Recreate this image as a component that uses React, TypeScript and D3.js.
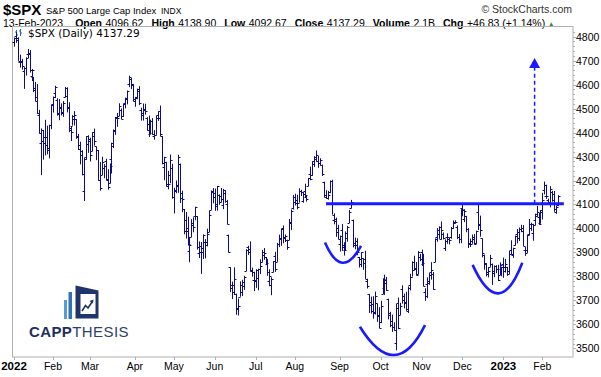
import React from "react";
import * as d3 from "d3";

// ---- Data: S&P 500 daily OHLC, Jan 3 2022 -> Feb 13 2023 ----
const months = ["2022-01","2022-02","2022-03","2022-04","2022-05","2022-06","2022-07","2022-08","2022-09","2022-10","2022-11","2022-12","2023-01","2023-02"];
const monthLabels = ["2022","Feb","Mar","Apr","May","Jun","Jul","Aug","Sep","Oct","Nov","Dec","2023","Feb"];
const monthBold = [true,false,false,false,false,false,false,false,false,false,false,false,true,false];
const tradingDays = [
  [3,4,5,6,7,10,11,12,13,14,18,19,20,21,24,25,26,27,28,31],
  [1,2,3,4,7,8,9,10,11,14,15,16,17,18,22,23,24,25,28],
  [1,2,3,4,7,8,9,10,11,14,15,16,17,18,21,22,23,24,25,28,29,30,31],
  [1,4,5,6,7,8,11,12,13,14,18,19,20,21,22,25,26,27,28,29],
  [2,3,4,5,6,9,10,11,12,13,16,17,18,19,20,23,24,25,26,27,31],
  [1,2,3,6,7,8,9,10,13,14,15,16,17,21,22,23,24,27,28,29,30],
  [1,5,6,7,8,11,12,13,14,15,18,19,20,21,22,25,26,27,28,29],
  [1,2,3,4,5,8,9,10,11,12,15,16,17,18,19,22,23,24,25,26,29,30,31],
  [1,2,6,7,8,9,12,13,14,15,16,19,20,21,22,23,26,27,28,29,30],
  [3,4,5,6,7,10,11,12,13,14,17,18,19,20,21,24,25,26,27,28,31],
  [1,2,3,4,7,8,9,10,11,14,15,16,17,18,21,22,23,25,28,29,30],
  [1,2,5,6,7,8,9,12,13,14,15,16,19,20,21,22,23,27,28,29,30],
  [3,4,5,6,9,10,11,12,13,17,18,19,20,23,24,25,26,27,30,31],
  [1,2,3,6,7,8,9,10,13],
];

const opens = [
  4778.14,4804.51,4787.99,4693.39,4697.66,4655.34,4669.14,4728.59,4733.56,4637.99,4632.24,4588.03,4547.35,4471.38,4356.32,4366.64,4380.58,4380.58,4336.19,4431.79,
  4519.57,4566.39,4535.41,4482.79,4505.75,4480.02,4547.00,4553.24,4506.27,4412.61,4429.28,4455.75,4456.06,4384.57,4332.74,4324.01,4155.77,4298.38,4354.17,
  4363.14,4322.56,4401.31,4342.12,4327.01,4202.66,4223.10,4252.55,4279.50,4202.75,4188.82,4288.14,4345.11,4407.34,4462.40,4469.10,4493.10,4469.98,4522.66,4541.09,4602.86,4624.20,4599.02,
  4540.32,4547.97,4572.45,4494.17,4474.65,4494.15,4462.64,4437.59,4394.30,4449.12,4385.63,4390.63,4472.26,4489.17,4385.83,4255.34,4278.14,4186.52,4222.58,4253.75,
  4130.61,4159.78,4181.18,4270.43,4128.17,4081.27,4035.18,3990.08,3903.95,3963.90,4013.02,4052.00,4051.98,3899.00,3927.76,3919.42,3942.94,3929.59,3984.60,4077.43,4151.09,
  4149.78,4095.41,4137.57,4134.72,4096.47,4147.12,4101.65,3974.39,3838.15,3763.52,3764.05,3728.18,3665.90,3715.31,3733.89,3774.71,3821.75,3920.76,3913.00,3825.09,3785.99,
  3781.00,3792.61,3831.98,3858.85,3888.26,3880.94,3851.95,3779.67,3763.99,3818.00,3883.79,3860.73,3935.32,3955.47,4000.76,3965.72,3953.22,3951.43,4026.13,4087.33,
  4112.38,4104.21,4107.96,4154.85,4115.87,4155.93,4133.11,4176.41,4227.40,4225.02,4269.37,4290.46,4280.40,4273.13,4266.31,4195.08,4133.09,4126.55,4153.26,4198.74,4034.58,4041.25,4000.67,
  3936.73,3994.66,3930.89,3909.43,3959.94,4022.94,4083.67,4037.12,3940.73,3932.41,3880.95,3849.91,3875.23,3871.40,3782.36,3727.14,3682.72,3686.44,3651.94,3687.01,3633.48,
  3609.78,3726.46,3753.25,3771.97,3706.74,3647.51,3595.86,3590.83,3520.37,3690.41,3638.65,3746.26,3703.11,3689.05,3657.10,3762.01,3799.44,3825.97,3834.69,3808.26,3881.85,
  3901.79,3852.90,3733.25,3766.98,3780.71,3817.02,3810.94,3859.89,3963.72,3977.97,4006.41,3976.82,3919.26,3966.39,3956.23,3965.51,4000.30,4023.34,4005.36,3964.19,3957.18,
  4087.14,4040.17,4052.02,3996.63,3933.28,3947.79,3954.17,3939.29,4069.38,4015.54,3958.37,3890.91,3853.79,3810.47,3839.49,3853.26,3815.11,3843.34,3829.56,3805.45,3829.06,
  3853.29,3840.36,3839.74,3823.37,3910.82,3888.57,3932.35,3977.57,3960.60,3999.28,4002.25,3911.84,3909.04,3978.14,4001.74,3982.71,4036.08,4053.72,4049.27,4020.85,
  4070.07,4158.68,4136.69,4119.57,4105.35,4153.10,4144.25,4068.92,4096.62,
];
const highs = [
  4796.64,4818.62,4797.70,4725.01,4707.95,4673.02,4714.13,4748.83,4744.13,4665.13,4632.24,4611.55,4602.11,4494.52,4417.35,4411.01,4453.23,4428.74,4432.72,4516.89,
  4550.49,4595.31,4542.88,4539.66,4521.86,4531.32,4590.03,4588.92,4526.33,4426.22,4472.77,4489.55,4456.06,4394.60,4362.12,4326.51,4294.73,4385.34,4388.84,
  4378.45,4401.48,4416.78,4342.12,4327.01,4276.94,4299.40,4268.28,4291.01,4247.57,4271.05,4357.86,4412.67,4465.40,4481.75,4522.00,4501.07,4520.58,4546.03,4575.65,4637.30,4627.77,4603.07,
  4548.70,4583.50,4593.45,4503.94,4521.16,4520.41,4464.35,4471.00,4453.92,4460.46,4410.31,4471.03,4488.29,4512.94,4385.83,4299.02,4278.14,4240.71,4308.45,4269.68,
  4169.81,4200.10,4307.66,4270.43,4157.69,4081.27,4068.82,4049.09,3964.80,4038.88,4046.46,4090.72,4051.98,3945.96,3943.42,3975.30,3955.68,3999.33,4075.14,4158.49,4168.34,
  4166.54,4177.51,4142.67,4168.78,4164.86,4160.14,4119.10,3974.39,3838.15,3778.18,3837.56,3728.18,3707.71,3779.65,3785.99,3802.58,3913.65,3927.72,3945.86,3836.50,3818.99,
  3829.82,3832.19,3870.91,3910.63,3918.50,3880.94,3873.41,3829.44,3796.41,3863.62,3902.44,3939.81,3974.13,3999.29,4012.44,3975.30,3953.22,4039.56,4078.95,4140.15,
  4144.95,4140.47,4167.66,4161.29,4151.58,4186.62,4137.30,4211.03,4257.91,4280.47,4301.79,4325.28,4302.18,4292.53,4266.31,4195.08,4159.77,4156.56,4200.54,4203.04,4062.99,4044.98,4015.37,
  3970.23,4018.43,3942.55,3987.89,4010.50,4076.81,4119.28,4037.12,3961.94,3959.14,3880.95,3900.45,3876.01,3907.07,3790.34,3727.14,3715.67,3717.53,3736.74,3687.01,3671.44,
  3698.35,3791.92,3806.91,3797.93,3706.74,3652.17,3640.66,3608.34,3685.41,3712.00,3689.73,3762.79,3728.58,3736.00,3757.89,3810.74,3862.85,3886.15,3859.95,3905.42,3893.73,
  3911.79,3894.44,3750.59,3796.34,3813.95,3859.40,3818.20,3958.33,4001.48,4008.97,4028.84,3983.09,3954.33,3979.89,3962.00,4005.88,4033.78,4034.02,4012.27,3976.77,4080.11,
  4100.51,4080.48,4052.45,4001.51,3957.57,3974.19,3977.02,3990.71,4100.96,4053.76,3958.37,3890.91,3854.86,3838.24,3889.82,3853.26,3845.80,3846.65,3848.32,3858.19,3839.85,
  3878.46,3873.16,3839.74,3906.19,3950.57,3919.83,3970.07,3997.76,4003.95,4015.39,4014.16,3922.94,3972.96,4039.31,4023.92,4019.55,4061.57,4094.21,4063.85,4077.16,
  4148.95,4195.44,4182.36,4124.63,4176.54,4156.85,4156.23,4094.36,4138.90,
];
const lows = [
  4758.17,4774.27,4699.44,4671.26,4662.74,4582.24,4638.27,4710.20,4650.29,4614.75,4568.70,4530.20,4477.95,4395.34,4222.62,4287.11,4304.80,4309.50,4292.46,4414.02,
  4483.53,4544.32,4470.39,4451.50,4471.47,4465.40,4547.00,4484.31,4401.41,4364.84,4429.28,4429.68,4373.81,4327.22,4267.11,4221.51,4114.65,4286.83,4315.12,
  4279.54,4322.56,4345.56,4284.98,4199.85,4157.87,4223.10,4209.80,4200.49,4161.72,4187.90,4229.34,4335.65,4390.57,4424.30,4469.10,4455.81,4465.17,4501.07,4517.69,4589.66,4581.32,4530.41,
  4507.57,4539.21,4514.17,4450.04,4450.30,4474.60,4408.38,4381.34,4392.70,4390.77,4370.30,4390.63,4448.76,4384.47,4267.62,4200.82,4175.04,4162.90,4188.63,4124.28,
  4062.51,4147.08,4148.91,4106.01,4067.91,3975.48,3958.17,3928.82,3858.87,3963.90,3983.99,4033.93,3911.91,3876.58,3810.32,3872.27,3875.13,3925.03,3984.60,4077.43,4104.88,
  4073.85,4074.37,4098.67,4109.18,4080.19,4107.20,4017.17,3900.16,3734.30,3705.68,3722.30,3639.77,3636.87,3715.31,3717.69,3743.52,3821.75,3889.66,3820.14,3799.02,3738.67,
  3752.10,3742.06,3809.37,3858.85,3869.34,3847.22,3802.36,3759.07,3721.56,3817.18,3818.63,3860.73,3922.03,3927.64,3938.24,3943.46,3910.74,3951.43,3992.97,4079.22,
  4096.02,4079.81,4107.96,4135.42,4107.31,4128.97,4112.09,4176.41,4201.41,4219.78,4256.90,4277.77,4253.08,4261.98,4218.70,4129.86,4124.03,4119.97,4147.59,4057.66,4017.42,3965.21,3954.53,
  3903.65,3906.21,3886.75,3906.03,3944.81,4022.94,4083.67,3921.07,3912.90,3888.28,3837.08,3838.50,3827.54,3789.49,3749.45,3647.47,3644.76,3623.29,3640.61,3610.40,3584.13,
  3604.93,3726.46,3722.66,3739.22,3620.73,3588.10,3568.45,3573.86,3491.58,3579.68,3638.65,3686.53,3666.51,3656.44,3647.42,3741.65,3799.44,3824.07,3803.79,3808.26,3863.18,
  3843.80,3758.68,3698.15,3708.84,3764.70,3786.28,3744.22,3859.89,3944.82,3956.40,3953.17,3954.34,3906.54,3935.98,3933.34,3956.88,3998.66,4020.76,3955.77,3937.65,3938.58,
  4050.87,4026.63,3984.49,3918.39,3922.68,3935.83,3933.04,3935.30,3993.03,3965.65,3879.45,3827.91,3800.04,3795.62,3839.49,3764.49,3797.01,3813.22,3780.78,3805.45,3800.34,
  3794.33,3815.77,3802.42,3809.56,3890.42,3877.29,3928.54,3937.56,3947.67,3984.57,3926.59,3885.54,3897.86,3971.64,3989.79,3949.06,4013.29,4048.70,4015.55,4020.44,
  4037.20,4141.88,4123.36,4103.98,4088.39,4111.67,4069.67,4060.79,4092.67,
];
const closes = [
  4796.56,4793.54,4700.58,4696.05,4677.03,4670.29,4713.07,4726.35,4659.03,4662.85,4577.11,4532.76,4482.73,4397.94,4410.13,4356.45,4349.93,4326.51,4431.85,4515.55,
  4546.54,4589.38,4477.44,4500.53,4483.87,4521.54,4587.18,4504.08,4418.64,4401.67,4471.07,4475.01,4380.26,4348.87,4304.76,4225.50,4288.70,4384.65,4373.94,
  4306.26,4386.54,4363.49,4328.87,4201.09,4170.70,4277.88,4259.52,4204.31,4173.11,4262.45,4357.86,4411.67,4463.12,4461.18,4511.61,4456.24,4520.16,4543.06,4575.52,4631.60,4602.45,4530.41,
  4545.86,4582.64,4525.12,4481.15,4500.21,4488.28,4412.53,4397.45,4446.59,4392.59,4391.69,4462.21,4459.45,4393.66,4271.78,4296.12,4175.20,4183.96,4287.50,4131.93,
  4155.38,4175.48,4300.17,4146.87,4123.34,3991.24,4001.05,3935.18,3930.08,4023.89,4008.01,4088.85,3923.68,3900.79,3901.36,3973.75,3941.48,3978.73,4057.84,4158.24,4132.15,
  4101.23,4176.82,4108.54,4121.43,4160.68,4115.77,4017.82,3900.86,3749.63,3735.48,3789.99,3666.77,3674.84,3764.79,3759.89,3795.73,3911.74,3900.11,3821.55,3818.83,3785.38,
  3825.33,3831.39,3845.08,3902.62,3899.38,3854.43,3818.80,3801.78,3790.38,3863.16,3830.85,3936.69,3959.90,3998.95,3961.63,3966.84,3921.05,4023.61,4072.43,4130.29,
  4118.63,4091.19,4155.17,4151.94,4145.19,4140.06,4122.47,4210.24,4207.27,4280.15,4297.14,4305.20,4274.04,4283.74,4228.48,4137.99,4128.73,4140.77,4199.12,4057.66,4030.61,3986.16,3955.00,
  3966.85,3924.26,3908.19,3979.87,4006.18,4067.36,4110.41,3932.69,3946.01,3901.35,3873.33,3899.89,3855.93,3789.93,3757.99,3693.23,3655.04,3647.29,3719.04,3640.47,3585.62,
  3678.43,3790.93,3783.28,3744.52,3639.66,3612.39,3588.84,3577.03,3669.91,3583.07,3677.95,3719.98,3695.16,3665.78,3752.75,3797.34,3859.11,3830.60,3807.30,3901.06,3871.98,
  3856.10,3759.69,3719.89,3770.55,3806.80,3828.11,3748.57,3956.37,3992.93,3957.25,3991.73,3958.79,3946.56,3965.34,3949.94,4003.58,4027.26,4026.12,3963.94,3957.63,4080.11,
  4076.57,4071.70,3998.84,3941.26,3933.92,3963.51,3934.38,3990.56,4019.65,3995.32,3895.75,3852.36,3817.66,3821.62,3878.44,3822.39,3844.82,3829.25,3783.22,3849.28,3839.50,
  3824.14,3852.97,3808.10,3895.08,3892.09,3919.25,3969.61,3983.17,3999.09,3990.97,3928.86,3898.85,3972.61,4019.81,4016.95,4016.22,4060.43,4070.56,4017.77,4076.60,
  4119.21,4179.76,4136.48,4111.08,4164.00,4117.86,4081.50,4090.46,4137.29,
];

const priceTicks = [3500,3600,3700,3800,3900,4000,4100,4200,4300,4400,4500,4600,4700,4800];

// Header quote
const quoteLabels = ["Open","High","Low","Close","Volume","Chg"];
const quoteValues = ["4096.62","4138.90","4092.67","4137.29","2.1B","+46.83 (+1.14%)"];

// Annotations (bar index, price)
const necklinePrice = 4103;
const necklineRange = [160, 282];
const arcStarts = [[159.5, 3941], [177.4, 3590], [235.2, 3848]];
const arcBottoms = [[168.4, 3857], [194.9, 3472], [248.4, 3729]];
const arcEnds = [[178, 3927], [210.8, 3597], [260.7, 3857]];
const targetIndex = 267;
const targetPrice = 4711;

const BAR = "#0c0c8a";
const ANN = "#1a1aff";
const FONT = "'Liberation Sans', Arial, sans-serif";

export default function App() {
  const W = 601, H = 377;
  const L = 12.5, R = 573, T = 26.5, B = 357;
  const n = closes.length;
  const x = d3.scaleLinear().domain([0, n - 1]).range([14, 558]);
  const y = d3.scaleLinear().domain([3500, 4800]).range([348.3, 36.7]);

  const monthStart: number[] = [];
  let acc = 0;
  tradingDays.forEach((d) => { monthStart.push(acc); acc += d.length; });

  let barPath = "";
  for (let i = 0; i < n; i++) {
    const xi = Math.round(x(i)) + 0.5;
    barPath += `M${xi},${y(highs[i]).toFixed(1)}V${y(lows[i]).toFixed(1)}`;
    barPath += `M${xi - 2},${Math.round(y(opens[i])) + 0.5}H${xi}`;
    barPath += `M${xi},${Math.round(y(closes[i])) + 0.5}H${xi + 2}`;
  }

  const minorTicks = d3.range(3500, 4821, 20);

  const arcPaths = arcStarts.map((s, k) => {
    const p0 = [x(s[0]), y(s[1])];
    const pm = [x(arcBottoms[k][0]), y(arcBottoms[k][1])];
    const p2 = [x(arcEnds[k][0]), y(arcEnds[k][1])];
    const c = [2 * pm[0] - 0.5 * (p0[0] + p2[0]), 2 * pm[1] - 0.5 * (p0[1] + p2[1])];
    const p = d3.path();
    p.moveTo(p0[0], p0[1]);
    p.quadraticCurveTo(c[0], c[1], p2[0], p2[1]);
    return p.toString();
  });

  const tx = x(targetIndex);
  const tyTip = y(targetPrice);

  return (
    <svg width={W} height={H} style={{ position: "absolute", left: 0, top: 0, background: "#fff" }} fontFamily={FONT}>
      {/* header */}
      <text x={3} y={15} fontSize={15} fontWeight="bold" fill="#000">$SPX</text>
      <text x={46} y={14} fontSize={9.5} fill="#000">S&amp;P 500 Large Cap Index</text>
      <text x={161} y={14} fontSize={8.5} fill="#000">INDX</text>
      <text x={572} y={13} fontSize={10.5} fill="#333" textAnchor="end">© StockCharts.com</text>
      <text y={26.5} fontSize={10.5} fill="#000">
        <tspan x={3}>13-Feb-2023</tspan>
        {quoteLabels.map((lab, k) => (
          <React.Fragment key={lab}>
            <tspan dx={k === 0 ? 12 : 8} fontWeight="bold">{lab}</tspan>
            <tspan dx={3.5}>{quoteValues[k]}</tspan>
          </React.Fragment>
        ))}
        <tspan dx={2} fill="#2e8b2e" fontSize={8}>▲</tspan>
      </text>

      {/* plot frame */}
      <rect x={L} y={T} width={R - L} height={B - T} fill="none" stroke="#b0b0b0" strokeWidth={1} />

      {/* y axis */}
      {minorTicks.filter((v) => y(v) > T && y(v) < B).map((v) => (
        <line key={"m" + v} x1={R} x2={R + (v % 100 === 0 ? 3 : 2)} y1={Math.round(y(v)) + 0.5} y2={Math.round(y(v)) + 0.5} stroke="#b0b0b0" />
      ))}
      {priceTicks.map((v) => (
        <text key={v} x={576} y={y(v) + 4} fontSize={10.5} fill="#000">{v}</text>
      ))}

      {/* x axis */}
      {monthStart.map((s, k) => (
        <g key={months[k]}>
          <line x1={Math.round(x(s)) + 0.5} x2={Math.round(x(s)) + 0.5} y1={B} y2={B + 3} stroke="#b0b0b0" />
          <text x={x(s)} y={370} fontSize={monthBold[k] ? 11.5 : 10.5} fontWeight={monthBold[k] ? "bold" : "normal"} textAnchor="middle" fill="#000">{monthLabels[k]}</text>
        </g>
      ))}

      {/* legend */}
      <g>
        <path d="M16.5,30V37M15,32H16.5M16.5,35H18M20.5,29V36M19,31H20.5M20.5,33H22" stroke="#2a5fd0" strokeWidth={1} fill="none" />
        <text x={28} y={37} fontSize={10.5} fontFamily="'DejaVu Sans', Verdana, sans-serif" fill="#000">$SPX (Daily) 4137.29</text>
      </g>

      {/* logo */}
      <g>
        <rect x={64} y={300} width={3} height={19} fill="#5b9bd5" />
        <rect x={68.5} y={292} width={3.5} height={27} fill="#2e75b6" />
        <path d="M75.5,285.5 L98.5,290.5 L98.5,318.5 L75.5,318.5 Z" fill="#1f3468" />
        <rect x={80.5} y={294} width={15} height={20} fill="#fff" />
        <path d="M82,311 L85.5,305.5 L88,308 L92,302" stroke="#1f3468" strokeWidth={1.6} fill="none" />
        <path d="M89.5,301 L93.5,299.5 L93,303.5 Z" fill="#1f3468" />
        <text x={29} y={336.5} fontSize={15} letterSpacing={0.4}>
          <tspan fontWeight="bold" fill="#1f2f60">CAPP</tspan>
          <tspan fill="#2f3f72">THESIS</tspan>
        </text>
      </g>

      {/* price bars */}
      <path d={barPath} stroke={BAR} strokeWidth={1} fill="none" />

      {/* annotations */}
      <line x1={x(necklineRange[0])} x2={x(necklineRange[1])} y1={y(necklinePrice)} y2={y(necklinePrice)} stroke={ANN} strokeWidth={3} />
      {arcPaths.map((d, k) => (
        <path key={k} d={d} stroke={ANN} strokeWidth={2.6} fill="none" />
      ))}
      <line x1={tx} x2={tx} y1={y(necklinePrice)} y2={tyTip + 10} stroke={ANN} strokeWidth={1.5} strokeDasharray="4,3" />
      <path d={`M${tx},${tyTip} L${tx + 5.5},${tyTip + 10} L${tx - 5.5},${tyTip + 10} Z`} fill={ANN} />
    </svg>
  );
}
